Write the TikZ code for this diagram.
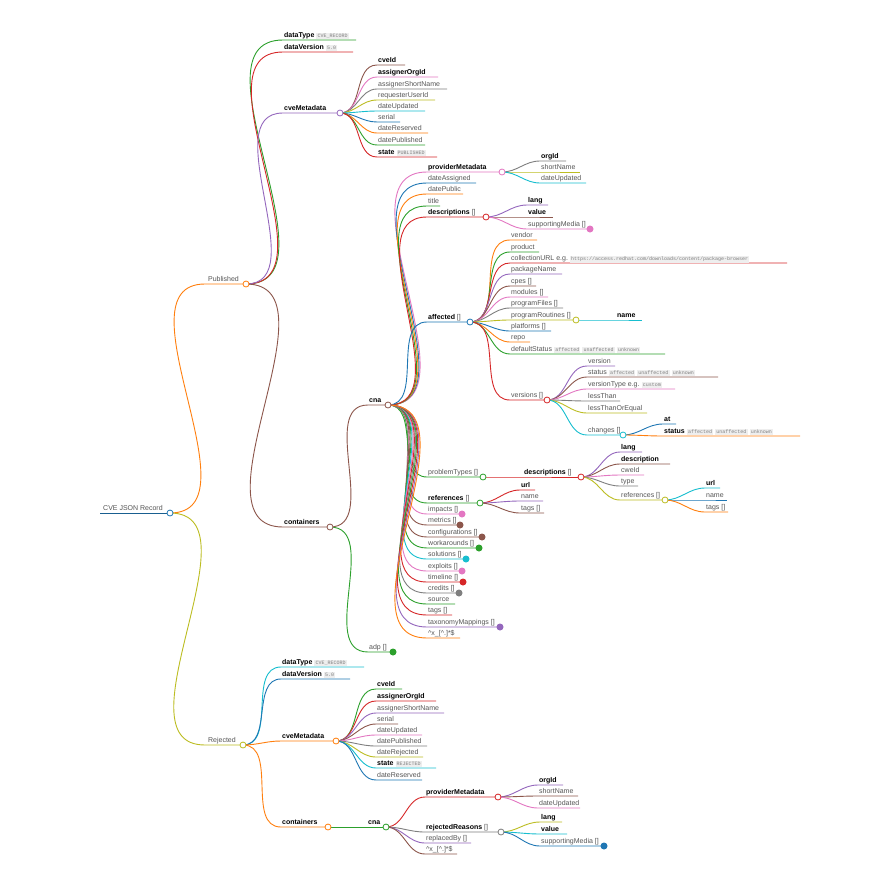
\documentclass[tikz,border=0pt]{standalone}
\usepackage{fontspec}
\setmainfont{Liberation Sans}
\setmonofont{Liberation Mono}
\usetikzlibrary{calc}
\definecolor{cB}{HTML}{1f77b4}\definecolor{cO}{HTML}{ff7f0e}\definecolor{cG}{HTML}{2ca02c}
\definecolor{cR}{HTML}{d62728}\definecolor{cP}{HTML}{9467bd}\definecolor{cN}{HTML}{8c564b}
\definecolor{cK}{HTML}{e377c2}\definecolor{cY}{HTML}{7f7f7f}\definecolor{cL}{HTML}{bcbd22}
\definecolor{cC}{HTML}{17becf}\definecolor{tagbg}{HTML}{eeeeee}\definecolor{txt}{HTML}{555555}
\newcommand\tg[1]{\hspace{2pt}{\setlength{\fboxsep}{1.2pt}\colorbox{tagbg}{\ttfamily\fontsize{5}{5}\selectfont\color{gray}#1}}}
\newcommand\bx[1]{{\color{black}\bfseries #1}}
\newcommand\E[7]{% parent, name, x, y, xend, color, text
 \coordinate (#2s) at (#3,#4); \coordinate (#2) at (#5,#4);
 \draw[edge,#6] (#1) to[out=0,in=180] (#2s) -- (#2);
 \node[lbl] at ($(#2s)+(1,-2.6)$) {#7};}
\newcommand\C[2]{\node[circle,draw=#2,fill=white,line width=0.8pt,minimum size=6pt,inner sep=0] at (#1) {};}
\newcommand\D[2]{\node[circle,fill=#2,minimum size=7pt,inner sep=0] at (#1) {};}
\newcommand\Ar{\textasciicircum x\_[\textasciicircum.]*\$}
\begin{document}
\begin{tikzpicture}[x=1pt,y=-1pt,
 edge/.style={line width=0.9pt},
 lbl/.style={anchor=base west,inner sep=0,font=\fontsize{7}{8}\selectfont,text=txt}]
\useasboundingbox[fill=white] (0,0) rectangle (883,892);
\coordinate (r0) at (100,513); \coordinate (root) at (170,513);
\draw[edge,cB!80!black] (r0) -- (root);
\node[lbl] at ($(r0)+(3,-2.6)$) {CVE JSON Record};
% Published
\E{root}{pub}{205}{284}{246}{cO}{\ Published}
\E{pub}{dt}{283}{40}{356}{cG}{\bx{dataType}\tg{CVE\_RECORD}}
\E{pub}{dv}{283}{52}{353}{cR}{\bx{dataVersion}\tg{5.0}}
\E{pub}{cm}{283}{113}{340}{cP}{\bx{cveMetadata}}
\E{pub}{ct}{283}{527}{330}{cN}{\bx{containers}}
\E{cm}{a1}{377}{65}{405}{cN}{\bx{cveId}}
\E{cm}{a2}{377}{77}{438}{cK}{\bx{assignerOrgId}}
\E{cm}{a3}{377}{89}{447}{cY}{assignerShortName}
\E{cm}{a4}{377}{100}{435}{cL}{requesterUserId}
\E{cm}{a5}{377}{111}{425}{cC}{dateUpdated}
\E{cm}{a6}{377}{122}{400}{cB}{serial}
\E{cm}{a7}{377}{133}{428}{cO}{dateReserved}
\E{cm}{a8}{377}{145}{425}{cG}{datePublished}
\E{cm}{a9}{377}{157}{437}{cR}{\bx{state}\tg{PUBLISHED}}
\E{ct}{cna}{368}{405}{388}{cN}{\bx{cna}}
\E{ct}{adp}{368}{652}{393}{cG}{adp []}
\E{cna}{pm}{427}{172}{502}{cK}{\bx{providerMetadata}}
\E{cna}{b2}{427}{183}{476}{cB}{dateAssigned}
\E{cna}{b3}{427}{194}{463}{cO}{datePublic}
\E{cna}{b4}{427}{206}{440}{cG}{title}
\E{cna}{ds}{427}{217}{486}{cR}{\bx{descriptions} []}
\E{cna}{af}{427}{322}{470}{cB}{\bx{affected} []}
\E{cna}{pt}{427}{477}{483}{cG}{problemTypes []}
\E{cna}{rf}{427}{503}{480}{cG}{\bx{references} []}
\E{cna}{b9}{427}{514}{462}{cK}{impacts []}
\E{cna}{b10}{427}{525}{460}{cN}{metrics []}
\E{cna}{b11}{427}{537}{482}{cN}{configurations []}
\E{cna}{b12}{427}{548}{479}{cG}{workarounds []}
\E{cna}{b13}{427}{559}{466}{cC}{solutions []}
\E{cna}{b14}{427}{571}{462}{cK}{exploits []}
\E{cna}{b15}{427}{582}{463}{cR}{timeline []}
\E{cna}{b16}{427}{593}{459}{cY}{credits []}
\E{cna}{b17}{427}{604}{455}{cG}{source}
\E{cna}{b18}{427}{615}{452}{cR}{tags []}
\E{cna}{b19}{427}{627}{500}{cP}{taxonomyMappings []}
\E{cna}{b20}{427}{638}{460}{cO}{\Ar}
\E{pm}{c1}{540}{161}{566}{cY}{\bx{orgId}}
\E{pm}{c2}{540}{172}{580}{cL}{shortName}
\E{pm}{c3}{540}{183}{586}{cC}{dateUpdated}
\E{ds}{d1}{527}{205}{548}{cP}{\bx{lang}}
\E{ds}{d2}{527}{217}{553}{cN}{\bx{value}}
\E{ds}{d3}{527}{229}{590}{cK}{supportingMedia []}
\E{af}{e1}{510}{240}{537}{cO}{vendor}
\E{af}{e2}{510}{252}{539}{cG}{product}
\E{af}{e3}{510}{263}{787}{cR}{collectionURL e.g.\tg{https://access.redhat.com/downloads/content/package-browser}}
\E{af}{e4}{510}{274}{562}{cP}{packageName}
\E{af}{e5}{510}{286}{536}{cN}{cpes []}
\E{af}{e6}{510}{297}{548}{cK}{modules []}
\E{af}{e7}{510}{308}{563}{cY}{programFiles []}
\E{af}{pr}{510}{320}{576}{cL}{programRoutines []}
\E{af}{e9}{510}{331}{551}{cB}{platforms []}
\E{af}{e10}{510}{342}{530}{cO}{repo}
\E{af}{e11}{510}{354}{665}{cG}{defaultStatus\tg{affected}\tg{unaffected}\tg{unknown}}
\E{af}{vs}{510}{400}{547}{cR}{versions []}
\E{pr}{f1}{616}{320}{642}{cC}{\bx{name}}
\E{vs}{g1}{587}{366}{615}{cP}{version}
\E{vs}{g2}{587}{377}{718}{cN}{status\tg{affected}\tg{unaffected}\tg{unknown}}
\E{vs}{g3}{587}{389}{675}{cK}{versionType e.g.\tg{custom}}
\E{vs}{g4}{587}{401}{620}{cY}{lessThan}
\E{vs}{g5}{587}{413}{647}{cL}{lessThanOrEqual}
\E{vs}{ch}{587}{435}{623}{cC}{changes []}
\E{ch}{h1}{663}{424}{676}{cB}{\bx{at}}
\E{ch}{h2}{663}{436}{800}{cO}{\bx{status}\tg{affected}\tg{unaffected}\tg{unknown}}
\E{pt}{pd}{523}{477}{581}{cR}{\bx{descriptions} []}
\E{pd}{i1}{620}{452}{642}{cP}{\bx{lang}}
\E{pd}{i2}{620}{464}{670}{cN}{\bx{description}}
\E{pd}{i3}{620}{475}{644}{cK}{cweId}
\E{pd}{i4}{620}{486}{638}{cY}{type}
\E{pd}{pr2}{620}{500}{665}{cL}{references []}
\E{pr2}{j1}{705}{488}{720}{cC}{\bx{url}}
\E{pr2}{j2}{705}{500}{727}{cB}{name}
\E{pr2}{j3}{705}{512}{728}{cO}{tags []}
\E{rf}{k1}{520}{490}{535}{cR}{\bx{url}}
\E{rf}{k2}{520}{501}{543}{cP}{name}
\E{rf}{k3}{520}{513}{544}{cN}{tags []}
% Rejected
\E{root}{rej}{205}{745}{243}{cL}{\ Rejected}
\E{rej}{rdt}{281}{667}{364}{cC}{\bx{dataType}\tg{CVE\_RECORD}}
\E{rej}{rdv}{281}{679}{350}{cB}{\bx{dataVersion}\tg{5.0}}
\E{rej}{rcm}{281}{741}{336}{cO}{\bx{cveMetadata}}
\E{rej}{rct}{281}{827}{328}{cO}{\bx{containers}}
\E{rcm}{m1}{376}{689}{402}{cG}{\bx{cveId}}
\E{rcm}{m2}{376}{701}{436}{cR}{\bx{assignerOrgId}}
\E{rcm}{m3}{376}{713}{444}{cP}{assignerShortName}
\E{rcm}{m4}{376}{724}{398}{cN}{serial}
\E{rcm}{m5}{376}{735}{422}{cK}{dateUpdated}
\E{rcm}{m6}{376}{746}{427}{cY}{datePublished}
\E{rcm}{m7}{376}{757}{423}{cL}{dateRejected}
\E{rcm}{m8}{376}{768}{436}{cC}{\bx{state}\tg{REJECTED}}
\E{rcm}{m9}{376}{780}{422}{cB}{dateReserved}
\E{rct}{rcna}{367}{827}{386}{cG}{\bx{cna}}
\E{rcna}{rpm}{425}{797}{498}{cR}{\bx{providerMetadata}}
\E{rcna}{rr}{425}{832}{501}{cY}{\bx{rejectedReasons} []}
\E{rcna}{n3}{425}{843}{471}{cP}{replacedBy []}
\E{rcna}{n4}{425}{854}{457}{cN}{\Ar}
\E{rpm}{o1}{538}{785}{563}{cP}{\bx{orgId}}
\E{rpm}{o2}{538}{796}{578}{cN}{shortName}
\E{rpm}{o3}{538}{808}{580}{cK}{dateUpdated}
\E{rr}{q1}{540}{822}{562}{cL}{\bx{lang}}
\E{rr}{q2}{540}{834}{567}{cC}{\bx{value}}
\E{rr}{q3}{540}{846}{604}{cB}{supportingMedia []}
% circles
\C{root}{cB}\C{pub}{cO}\C{cm}{cP}\C{ct}{cN}\C{cna}{cN}\C{pm}{cK}\C{ds}{cR}\C{af}{cB}
\C{pt}{cG}\C{rf}{cG}\C{pr}{cL}\C{vs}{cR}\C{ch}{cC}\C{pd}{cR}\C{pr2}{cL}
\C{rej}{cL}\C{rcm}{cO}\C{rct}{cO}\C{rcna}{cG}\C{rpm}{cR}\C{rr}{cY}
\D{adp}{cG}\D{b9}{cK}\D{b10}{cN}\D{b11}{cN}\D{b12}{cG}\D{b13}{cC}\D{b14}{cK}\D{b15}{cR}
\D{b16}{cY}\D{b19}{cP}\D{d3}{cK}\D{q3}{cB}
\end{tikzpicture}
\end{document}
